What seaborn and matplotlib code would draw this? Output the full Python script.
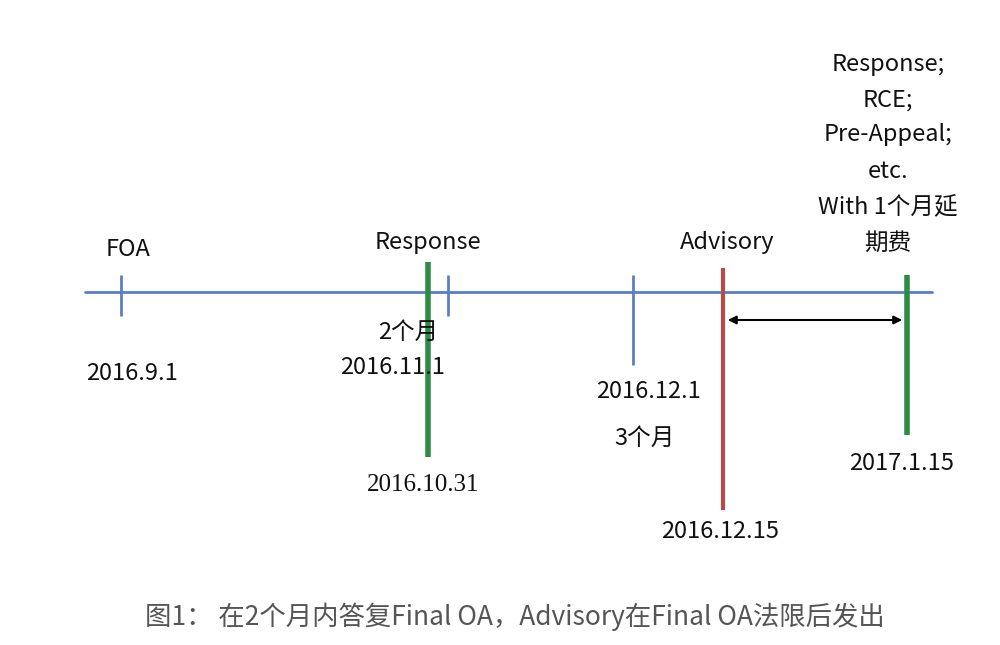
import matplotlib.pyplot as plt
import seaborn as sns

sns.set_theme(style="white")
plt.rcParams['font.family'] = ['Noto Sans CJK SC', 'DejaVu Sans']

# marker positions along the timeline (pixel scale of the drawing)
tick_x = [121, 448, 633]
tick_bottom = [316, 316, 365]
green_x = [428, 907]
green_top = [262, 275]
green_bottom = [457, 435]
red_x = [723]
red_top = [268]
red_bottom = [510]

labels = ["FOA", "Response", "Advisory", "2016.9.1", "2个月", "2016.11.1",
          "2016.10.31", "2016.12.1", "3个月", "2016.12.15", "2017.1.15"]
label_x = [128, 428, 727, 132, 408, 393, 423, 648, 645, 720, 902]
label_y = [250, 243, 243, 374, 332, 368, 485, 391, 438, 531, 463]
serif = [False, False, False, False, False, False, True, False, False, False, False]

side_note = ["Response;", "RCE;", "Pre-Appeal;", "etc.", "With 1个月延", "期费"]
side_y = [65, 100, 135, 171, 208, 243]

caption = "图1： 在2个月内答复Final OA，Advisory在Final OA法限后发出"

fig = plt.figure(figsize=(10, 6.45), dpi=100)
ax = fig.add_axes([0, 0, 1, 1])
ax.set_xlim(0, 1000)
ax.set_ylim(645, 0)
ax.axis("off")

blue = "#5b7fc0"
ax.plot([85, 932], [292, 292], color=blue, lw=2)
ax.vlines(tick_x, 275, tick_bottom, color=blue, lw=2)
ax.vlines(green_x, green_top, green_bottom, color="#2e8b45", lw=4)
ax.vlines(red_x, red_top, red_bottom, color="#b94a48", lw=3)
ax.annotate("", xy=(905, 320), xytext=(725, 320),
            arrowprops=dict(arrowstyle="<|-|>", color="black", lw=1.5))

for t, x, y, s in zip(labels, label_x, label_y, serif):
    fam = ['Liberation Serif', 'Noto Sans CJK SC'] if s else None
    ax.text(x, y, t, ha="center", va="center", fontsize=18 if s else 17,
            color="#111111", family=fam)

for t, y in zip(side_note, side_y):
    ax.text(888, y, t, ha="center", va="center", fontsize=17, color="#111111")

ax.text(515, 617, caption, ha="center", va="center", fontsize=19, color="#555555")

fig.savefig("out.png")
